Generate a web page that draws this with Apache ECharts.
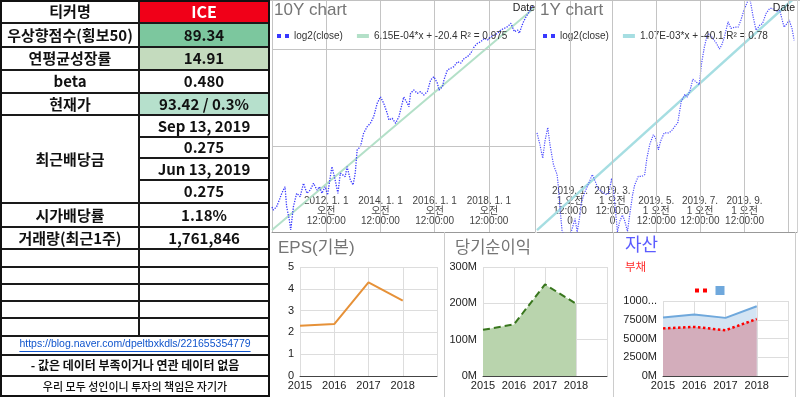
<!DOCTYPE html>
<html>
<head>
<meta charset="utf-8">
<script src="https://cdn.jsdelivr.net/npm/echarts@6/dist/echarts.min.js"></script>
<style>
    html, body { margin: 0; padding: 0; background: #fff; }
    #main { width: 800px; height: 397px; }
</style>
</head>
<body>
<div id="main"></div>
<script>
    // ---- table data
    var metricNames = ['티커명', '우상향점수(횡보50)', '연평균성장률', 'beta', '현재가'];
    var metricValues = ['ICE', '89.34', '14.91', '0.480', '93.42 / 0.3%'];
    var dividendName = '최근배당금';
    var dividendValues = ['Sep 13, 2019', '0.275', 'Jun 13, 2019', '0.275'];
    var extraNames = ['시가배당률', '거래량(최근1주)'];
    var extraValues = ['1.18%', '1,761,846'];
    var linkText = 'https://blog.naver.com/dpeltbxkdls/221655354779';
    var noteTexts = ['- 값은 데이터 부족이거나 연관 데이터 없음', '우리 모두 성인이니 투자의 책임은 자기가'];

    // ---- 10Y chart: year, log2(close)
    var tenYDates = [2010.00, 2010.05, 2010.17, 2010.27, 2010.36, 2010.48, 2010.54, 2010.64, 2010.69, 2010.79,
        2010.91, 2011.04, 2011.16, 2011.29, 2011.41, 2011.53, 2011.66, 2011.75, 2011.84, 2011.96,
        2012.05, 2012.15, 2012.21, 2012.33, 2012.43, 2012.52, 2012.58, 2012.70, 2012.77, 2012.89,
        2012.99, 2013.07, 2013.14, 2013.26, 2013.38, 2013.51, 2013.63, 2013.75, 2013.88, 2014.00,
        2014.12, 2014.25, 2014.31, 2014.43, 2014.56, 2014.68, 2014.86, 2014.99, 2015.05, 2015.11,
        2015.23, 2015.36, 2015.48, 2015.60, 2015.73, 2015.85, 2015.97, 2016.10, 2016.16, 2016.29,
        2016.34, 2016.47, 2016.59, 2016.71, 2016.84, 2016.96, 2017.09, 2017.21, 2017.33, 2017.46,
        2017.58, 2017.70, 2017.83, 2017.95, 2018.07, 2018.20, 2018.32, 2018.44, 2018.57, 2018.69,
        2018.81, 2018.94, 2019.06, 2019.12, 2019.25, 2019.37, 2019.49, 2019.62];
    var tenYLog = [4.371, 4.340, 4.374, 4.443, 4.512, 4.580, 4.374, 4.237, 4.134, 4.374,
        4.512, 4.477, 4.615, 4.512, 4.546, 4.615, 4.546, 4.580, 4.512, 4.580,
        4.495, 4.684, 4.787, 4.649, 4.512, 4.719, 4.735, 4.684, 4.787, 4.649,
        4.598, 4.719, 4.959, 4.993, 5.131, 5.199, 5.234, 5.302, 5.440, 5.508,
        5.440, 5.337, 5.268, 5.286, 5.234, 5.302, 5.505, 5.440, 5.405, 5.543,
        5.577, 5.543, 5.560, 5.526, 5.560, 5.680, 5.714, 5.646, 5.577, 5.611,
        5.680, 5.784, 5.801, 5.818, 5.869, 5.853, 5.904, 5.921, 5.956, 6.024,
        6.059, 6.075, 6.110, 6.093, 6.127, 6.144, 6.162, 6.196, 6.213, 6.230,
        6.265, 6.178, 6.196, 6.162, 6.265, 6.333, 6.385, 6.454];
    var tenYTrend = [[2010.0, 4.134], [2019.67, 6.423]];
    var tenYTrendName = '6.15E-04*x + -20.4 R² = 0.975';
    var tenYTicks = [2012, 2014, 2016, 2018];
    var tenYGridValues = [5, 6];
    var tenYTickLabels = ['2012. 1. 1\n오전\n12:00:00', '2014. 1. 1\n오전\n12:00:00',
        '2016. 1. 1\n오전\n12:00:00', '2018. 1. 1\n오전\n12:00:00'];

    // ---- 1Y chart: days from 2019-01-01, log2(close)
    var oneYDays = [-46, -42, -38, -35, -31, -28, -23, -18, -16, -14,
        -11, -7, 0, 7, 10, 13, 16, 21, 25, 31,
        35, 39, 44, 50, 54, 58, 60, 63, 66, 69,
        73, 76, 80, 83, 87, 90, 95, 100, 104, 107,
        111, 116, 119, 123, 126, 131, 137, 141, 146, 150,
        155, 160, 163, 167, 171, 176, 180, 183, 187, 191,
        194, 199, 204, 208, 211, 215, 220, 224, 229, 234,
        238, 242, 247, 250, 255, 259, 264, 268, 273, 278,
        282, 287, 292, 295, 298, 302, 305, 309, 312];
    var oneYLog = [6.380, 6.361, 6.338, 6.366, 6.389, 6.361, 6.327, 6.311, 6.288, 6.255,
        6.217, 6.210, 6.210, 6.238, 6.216, 6.238, 6.266, 6.283, 6.294, 6.311,
        6.300, 6.288, 6.283, 6.278, 6.280, 6.305, 6.288, 6.255, 6.216, 6.233,
        6.244, 6.235, 6.217, 6.244, 6.277, 6.294, 6.308, 6.308, 6.311, 6.338,
        6.361, 6.377, 6.372, 6.352, 6.366, 6.380, 6.380, 6.383, 6.391, 6.397,
        6.433, 6.444, 6.439, 6.450, 6.469, 6.464, 6.460, 6.494, 6.522, 6.542,
        6.544, 6.536, 6.528, 6.519, 6.525, 6.539, 6.564, 6.553, 6.555, 6.555,
        6.567, 6.583, 6.597, 6.605, 6.572, 6.550, 6.558, 6.561, 6.578, 6.586,
        6.586, 6.581, 6.583, 6.569, 6.555, 6.561, 6.567, 6.553, 6.533];
    var oneYTrend = [[-46, 6.219], [316, 6.607]];
    var oneYTrendName = '1.07E-03*x + -40.1 R² = 0.78';
    var oneYTicks = [0, 59, 120, 181, 243];
    var oneYGrid = [0, 59, 120, 181, 243, 304];
    var oneYTickLabels = ['2019. 1.\n1 오전\n12:00:0\n0', '2019. 3.\n1 오전\n12:00:0\n0',
        '2019. 5.\n1 오전\n12:00:00', '2019. 7.\n1 오전\n12:00:00', '2019. 9.\n1 오전\n12:00:00'];

    // ---- yearly charts
    var years = ['2015', '2016', '2017', '2018', ''];
    var eps = [2.3, 2.38, 4.29, 3.46];
    var netIncome = [127, 142, 252, 199];
    var assets = [7800, 8200, 7750, 9300];
    var liabilities = [6350, 6550, 6100, 7600];
    var assetTicks = {0: '0M', 2500: '2500M', 5000: '5000M', 7500: '7500M', 10000: '1000...'};

    function zip(a, b) {
        return a.map(function (v, i) { return [v, b[i]]; });
    }

    var LAT = '"Liberation Sans", "Noto Sans CJK KR", sans-serif';
    var KR = '"Noto Sans CJK KR", sans-serif';

    function text(x, y, s, st) {
        var style = {
            text: s, fill: '#111', fontSize: 15, fontWeight: 'bold', fontFamily: KR,
            align: 'center', verticalAlign: 'middle', textAlign: 'center', textVerticalAlign: 'middle'
        };
        for (var k in st) style[k] = st[k];
        return {type: 'text', x: x, y: y, z: 20, silent: true, style: style};
    }
    function line(x1, y1, x2, y2, color, w) {
        return {type: 'line', z: 15, silent: true, shape: {x1: x1, y1: y1, x2: x2, y2: y2},
            style: {stroke: color, lineWidth: w}};
    }

    // ---- table layout
    var TL = 1, TM = 139, TR = 269;
    var rowY = [0, 23, 47, 70, 93, 115, 137, 158, 180, 203, 227, 249, 267, 284, 301, 318, 336, 355, 376, 397];
    var valueFills = ['#f00018', '#7cc79e', '#c4dbbe', null, '#b6e0cc'];
    var g = [];
    valueFills.forEach(function (c, i) {
        if (c) g.push({type: 'rect', z: 5, shape: {x: TM, y: rowY[i], width: TR - TM, height: rowY[i + 1] - rowY[i]}, style: {fill: c}});
    });
    function midY(a, b) { return (rowY[a] + rowY[b]) / 2; }
    metricNames.forEach(function (s, i) {
        g.push(text((TL + TM) / 2, midY(i, i + 1), s));
        g.push(text((TM + TR) / 2, midY(i, i + 1), metricValues[i],
            i === 0 ? {fill: '#fff', fontSize: 16} : {}));
    });
    g.push(text((TL + TM) / 2, midY(5, 9), dividendName));
    dividendValues.forEach(function (s, i) {
        g.push(text((TM + TR) / 2, midY(5 + i, 6 + i), s));
    });
    extraNames.forEach(function (s, i) {
        g.push(text((TL + TM) / 2, midY(9 + i, 10 + i), s));
        g.push(text((TM + TR) / 2, midY(9 + i, 10 + i), extraValues[i]));
    });
    g.push(text(135, midY(16, 17) - 1, linkText, {fontSize: 10.5, fontWeight: 'normal', fontFamily: LAT, fill: '#1155cc'}));
    var ctx = document.createElement('canvas').getContext('2d');
    ctx.font = '10.5px "Liberation Sans"';
    var lw = ctx.measureText(linkText).width;
    g.push(line(135 - lw / 2, 351.5, 135 + lw / 2, 351.5, '#1155cc', 1));
    g.push(text(135, midY(17, 18), noteTexts[0], {fontSize: 12}));
    g.push(text(135, midY(18, 19), noteTexts[1], {fontSize: 11, fontWeight: 500}));
    for (var i = 1; i < rowY.length - 1; i++) {
        var x0 = (i >= 6 && i <= 8) ? TM : TL;
        g.push(line(x0, rowY[i], TR, rowY[i], '#1a1a1a', 2));
    }
    g.push(line(TM, 0, TM, rowY[16], '#1a1a1a', 2));
    g.push({type: 'rect', z: 16, silent: true, shape: {x: TL, y: 1, width: TR - TL, height: 395},
        style: {fill: 'none', stroke: '#111', lineWidth: 2}});

    // ---- chart frames & titles
    g.push(line(270, 0.5, 800, 0.5, '#c0c0c0', 1));
    g.push(line(797.5, 0, 797.5, 232, '#d0d0d0', 1));
    g.push(line(444.5, 232, 444.5, 397, '#cccccc', 1));
    g.push(line(613.5, 232, 613.5, 397, '#cccccc', 1));
    g.push(line(795.5, 232, 795.5, 397, '#cccccc', 1));
    var titleSt = {fontSize: 17, fontWeight: 'normal', fontFamily: LAT, fill: '#757575',
        align: 'left', textAlign: 'left', verticalAlign: 'top', textVerticalAlign: 'top'};
    g.push(text(274, 2, '10Y chart', titleSt));
    g.push(text(540, 2, '1Y chart', titleSt));
    g.push(text(278, 240, 'EPS(기본)', titleSt));
    g.push(text(455, 240, '당기순이익', Object.assign({}, titleSt, {fontSize: 16.5})));
    g.push(text(625, 237, '자산', Object.assign({}, titleSt, {fontSize: 18, fill: '#5c5cff'})));
    g.push(text(625, 262, '부채', Object.assign({}, titleSt, {fontSize: 11.5, fill: '#ff2d2d'})));
    var dateSt = {fontSize: 10.5, fontWeight: 'normal', fontFamily: LAT, fill: '#222',
        align: 'right', textAlign: 'right', verticalAlign: 'top', textVerticalAlign: 'top'};
    g.push(text(535, 3, 'Date', dateSt));
    g.push(text(795, 3, 'Date', dateSt));

    var chart = echarts.init(document.getElementById('main'));

    var gridLine = {color: '#c4c4c4', width: 1, type: 'solid'};
    var lowAxisLabel = {fontSize: 11, color: '#222', fontFamily: LAT};
    function catAxis(gi) {
        return {
            type: 'category', gridIndex: gi, data: years, boundaryGap: false,
            axisLine: {lineStyle: {color: '#444'}}, axisTick: {show: false},
            axisLabel: Object.assign({interval: 0, margin: 4}, lowAxisLabel),
            splitLine: {show: true, interval: 0, lineStyle: {color: '#dddddd'}}
        };
    }
    function valAxis(gi, max, interval, fmt) {
        return {
            type: 'value', gridIndex: gi, min: 0, max: max, interval: interval,
            axisLine: {show: false}, axisTick: {show: false},
            axisLabel: Object.assign({margin: 6, formatter: fmt}, lowAxisLabel),
            splitLine: {lineStyle: {color: '#dddddd'}}
        };
    }
    var topLabel = {inside: true, fontSize: 10, lineHeight: 10, color: '#444', fontFamily: LAT, margin: 6};
    var legendText = {fontSize: 10, color: '#333', fontFamily: LAT};
    var dotIcon = 'path://M0 0h4v4h-4z M8 0h4v4h-4z';
    var squareIcon = 'path://M0 0h9v9h-9z';

    var option = {
        animation: false,
        graphic: {elements: g},
        grid: [
            {left: 272, top: 0, width: 263, height: 232},
            {left: 537, top: 0, width: 260, height: 232},
            {left: 300, top: 267, width: 137, height: 109},
            {left: 483, top: 267, width: 124, height: 109},
            {left: 663, top: 301, width: 125, height: 75}
        ],
        legend: [
            {left: 272, top: 26, itemWidth: 12, itemHeight: 4, itemGap: 14, itemStyle: {borderWidth: 0},
                textStyle: legendText,
                data: [{name: 'log2(close)', icon: dotIcon}, {name: tenYTrendName, icon: 'rect'}]},
            {left: 538, top: 26, itemWidth: 12, itemHeight: 4, itemGap: 14, itemStyle: {borderWidth: 0},
                textStyle: legendText,
                data: [{name: 'log2(close)', icon: dotIcon}, {name: oneYTrendName, icon: 'rect'}]},
            {left: 690, top: 281, itemWidth: 12, itemHeight: 9, itemGap: 7, itemStyle: {borderWidth: 0},
                formatter: function () { return ''; },
                data: [{name: '부채', icon: dotIcon}, {name: '자산', icon: squareIcon}]}
        ],
        xAxis: [
            {
                type: 'value', gridIndex: 0, min: 2010, max: 2019.7, interval: 2,
                axisLine: {lineStyle: {color: '#999'}}, axisTick: {show: false},
                splitLine: {show: true, lineStyle: gridLine},
                axisLabel: Object.assign({
                    formatter: function (v) {
                        var k = tenYTicks.indexOf(Math.round(v * 100) / 100);
                        return k < 0 ? '' : tenYTickLabels[k];
                    }
                }, topLabel)
            },
            {
                type: 'value', gridIndex: 1, min: -46, max: 316,
                axisLine: {lineStyle: {color: '#999'}}, axisTick: {show: false},
                splitLine: {show: false},
                axisLabel: Object.assign({
                    customValues: oneYTicks,
                    formatter: function (v) {
                        var k = oneYTicks.indexOf(v);
                        return k < 0 ? '' : oneYTickLabels[k];
                    }
                }, topLabel)
            },
            catAxis(2), catAxis(3), catAxis(4)
        ],
        yAxis: [
            {type: 'value', gridIndex: 0, min: 4.113, max: 6.505, axisLabel: {show: false},
                axisTick: {show: false}, axisLine: {show: false}, splitLine: {show: false}},
            {type: 'value', gridIndex: 1, min: 6.216, max: 6.60, axisLabel: {show: false},
                axisTick: {show: false}, axisLine: {show: true, lineStyle: {color: '#c8c8c8'}}, splitLine: {show: false}},
            valAxis(2, 5, 1, '{value}'),
            valAxis(3, 300, 100, '{value}M'),
            valAxis(4, 10000, 2500, function (v) { return assetTicks[v]; })
        ],
        series: [
            {
                name: 'log2(close)', type: 'line', xAxisIndex: 0, yAxisIndex: 0, z: 3,
                data: zip(tenYDates, tenYLog), showSymbol: false, color: '#3838ff',
                lineStyle: {color: '#3838ff', width: 1.3, type: 'dotted'},
                markLine: {silent: true, symbol: 'none', label: {show: false}, lineStyle: gridLine,
                    data: tenYGridValues.map(function (v) {
                        return [{coord: [2010, v]}, {coord: [2019.7, v]}];
                    })}
            },
            {
                name: tenYTrendName, type: 'line', xAxisIndex: 0, yAxisIndex: 0, z: 2,
                data: tenYTrend, showSymbol: false, color: '#b3e0c8',
                lineStyle: {color: '#b3e0c8', width: 2}
            },
            {
                name: 'log2(close)', type: 'line', xAxisIndex: 1, yAxisIndex: 1, z: 3,
                data: zip(oneYDays, oneYLog), showSymbol: false, color: '#3838ff',
                lineStyle: {color: '#5050ff', width: 1.2, type: 'dotted'},
                markLine: {silent: true, symbol: 'none', label: {show: false}, lineStyle: gridLine,
                    data: oneYGrid.map(function (d) { return {xAxis: d}; })}
            },
            {
                name: oneYTrendName, type: 'line', xAxisIndex: 1, yAxisIndex: 1, z: 2,
                data: oneYTrend, showSymbol: false, color: '#a6dee2',
                lineStyle: {color: '#a6dee2', width: 2.5}
            },
            {
                name: 'EPS', type: 'line', xAxisIndex: 2, yAxisIndex: 2, data: eps,
                showSymbol: false, lineStyle: {color: '#e69138', width: 2}, color: '#e69138'
            },
            {
                name: '당기순이익', type: 'line', xAxisIndex: 3, yAxisIndex: 3, data: netIncome,
                showSymbol: false, color: '#38761d',
                lineStyle: {color: '#38761d', width: 2, type: [7, 4]},
                areaStyle: {color: '#b9d4ad', opacity: 1}
            },
            {
                name: '자산', type: 'line', xAxisIndex: 4, yAxisIndex: 4, data: assets,
                showSymbol: false, color: '#6fa8dc',
                lineStyle: {color: '#6fa8dc', width: 2},
                areaStyle: {color: '#d3e4f3', opacity: 1}
            },
            {
                name: '부채', type: 'line', xAxisIndex: 4, yAxisIndex: 4, data: liabilities,
                showSymbol: false, color: '#ff0000',
                lineStyle: {color: '#ff0000', width: 2.5, type: 'dotted'},
                areaStyle: {color: '#d3adbb', opacity: 1}
            }
        ]
    };
    chart.setOption(option);
</script>
</body>
</html>
